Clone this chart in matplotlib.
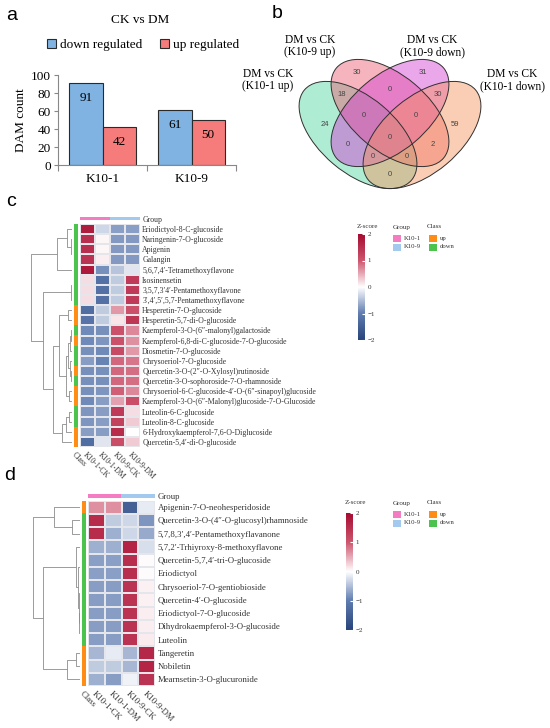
import numpy as np
import matplotlib
matplotlib.use('Agg')
import matplotlib.pyplot as plt
from matplotlib.patches import Ellipse, Rectangle, Patch
from matplotlib.colors import LinearSegmentedColormap, ListedColormap, Normalize
from matplotlib.cm import ScalarMappable

plt.rcParams['font.family'] = ['Liberation Serif', 'DejaVu Serif']

# ---------------- data ----------------
bar_categories = ['K10-1', 'K10-9']
down_counts = [91, 61]
up_counts = [42, 50]

venn_set_labels = ['DM vs CK\n(K10-1 up)', 'DM vs CK\n(K10-9 up)',
                   'DM vs CK\n(K10-9 down)', 'DM vs CK\n(K10-1 down)']
venn_region_codes = ['1000', '0100', '0010', '0001', '1100', '0110', '0011',
                     '1110', '0111', '1111', '1010', '1011', '1101', '0101', '1001']
venn_region_counts = [24, 30, 31, 59, 18, 0, 30, 0, 0, 0, 0, 0, 0, 2, 0]

sample_names = ['K10-1-CK', 'K10-1-DM', 'K10-9-CK', 'K10-9-DM']
sample_groups = ['K10-1', 'K10-1', 'K10-9', 'K10-9']

c_rows = ["Eriodictyol-8-C-glucoside", "Naringenin-7-O-glucoside", "Apigenin", "Galangin",
          "5,6,7,4′-Tetramethoxyflavone", "Isosinensetin", "3,5,7,3′4′-Pentamethoxyflavone",
          "3′,4′,5′,5,7-Pentamethoxyflavone", "Hesperetin-7-O-glucoside",
          "Hesperetin-5,7-di-O-glucoside", "Kaempferol-3-O-(6″-malonyl)galactoside",
          "Kaempferol-6,8-di-C-glucoside-7-O-glucoside", "Diosmetin-7-O-glucoside",
          "Chrysoeriol-7-O-glucoside", "Quercetin-3-O-(2″-O-Xylosyl)rutinoside",
          "Quercetin-3-O-sophoroside-7-O-rhamnoside",
          "Chrysoeriol-6-C-glucoside-4′-O-(6″-sinapoyl)glucoside",
          "Kaempferol-3-O-(6″-Malonyl)glucoside-7-O-Glucoside", "Luteolin-6-C-glucoside",
          "Luteolin-8-C-glucoside", "6-Hydroxykaempferol-7,6-O-Diglucoside",
          "Quercetin-5,4′-di-O-glucoside"]
c_values = np.array([
    [1.75, -0.30, -0.72, -0.72],
    [1.50, 0.05, -0.78, -0.77],
    [1.50, 0.05, -0.78, -0.77],
    [1.45, 0.10, -0.78, -0.77],
    [1.80, -0.85, -0.45, -0.20],
    [0.20, -1.20, -0.40, 1.35],
    [0.20, -1.20, -0.40, 1.35],
    [0.20, -1.20, -0.40, 1.35],
    [-1.25, -0.40, 0.60, 1.05],
    [-1.15, -0.40, 0.15, 1.40],
    [-0.90, -0.85, 1.05, 0.70],
    [-0.90, -0.80, 1.05, 0.65],
    [-0.85, -0.90, 1.15, 0.60],
    [-0.75, -0.95, 0.90, 0.80],
    [-0.85, -0.85, 0.90, 0.85],
    [-0.85, -0.85, 0.90, 0.85],
    [-0.85, -0.80, 0.95, 0.70],
    [-0.90, -0.75, 0.55, 1.10],
    [-0.80, -0.75, 1.35, 0.20],
    [-0.80, -0.75, 1.25, 0.30],
    [-0.75, -0.75, 1.55, 0.00],
    [-1.25, -0.20, 1.10, 0.30],
])
c_class = ['down'] * 8 + ['up', 'up', 'down', 'up', 'down', 'down', 'up', 'down',
                          'up', 'up', 'down', 'down', 'up', 'up']
# dendrogram merges: (height, left, right); leaves are row indices
c_tree = (41, (15, (5, 0, (1, 1, (0.5, 2, 3))), 4),
          (29, (0.6, (0.3, 5, 6), 7),
           (19, (13, (4, 8, 9),
                 (6, (4, (2.5, (1.5, 10, 11), 12), (2, 13, (1, 14, 15))), (3, 16, 17))),
            (10, (6, (3, 18, 19), 20), 21))))

d_rows = ["Apigenin-7-O-neohesperidoside", "Quercetin-3-O-(4″-O-glucosyl)rhamnoside",
          "5,7,8,3′,4′-Pentamethoxyflavanone", "5,7,2′-Trhiyroxy-8-methoxyflavone",
          "Quercetin-5,7,4′-tri-O-glucoside", "Eriodictyol", "Chrysoeriol-7-O-gentiobioside",
          "Quercetin-4′-O-glucoside", "Eriodictyol-7-O-glucoside",
          "Dihydrokaempferol-3-O-glucoside", "Luteolin", "Tangeretin", "Nobiletin",
          "Mearnsetin-3-O-glucuronide"]
d_values = np.array([
    [0.65, 0.65, -1.50, -0.15],
    [1.55, -0.40, -0.30, -0.80],
    [1.55, -0.60, -0.30, -0.65],
    [-0.60, -0.60, 1.65, -0.25],
    [-0.72, -0.72, 1.50, 0.02],
    [-0.72, -0.72, 1.50, 0.02],
    [-0.75, -0.75, 1.45, 0.08],
    [-0.75, -0.75, 1.45, 0.08],
    [-0.75, -0.75, 1.45, 0.10],
    [-0.75, -0.75, 1.45, 0.10],
    [-0.75, -0.75, 1.45, 0.12],
    [-0.55, -0.15, -0.55, 1.60],
    [-0.40, -0.40, -0.55, 1.65],
    [-0.60, -0.75, -0.10, 1.45],
])
d_class = ['up'] + ['down'] * 10 + ['up'] * 3
d_tree = (48, (27, 0, (8, 1, 2)),
          (38, (4, 3, (2, (0.5, 4, 5), (1.2, (0.5, 6, 7), (0.8, 8, (0.4, 9, 10))))),
           (13, (4, 11, 12), 13)))

# ---------------- styles ----------------
W, H = 550, 728
BLUE, RED = '#80B3E2', '#F67C7C'
GROUP_COLORS = {'K10-1': '#F47CC2', 'K10-9': '#A3C9EF'}
CLASS_COLORS = {'up': '#FF8C14', 'down': '#4CC34C'}
cmap = LinearSegmentedColormap.from_list(
    'z', [(0, '#28447A'), (0.25, '#5F7CB0'), (0.5, '#FFFFFF'), (0.75, '#CD556E'), (1, '#A50A2F')])
norm = Normalize(-2, 2)
TXT = '#333333'

fig = plt.figure(figsize=(W / 100, H / 100), dpi=100)


def pax(x0, y0, x1, y1):
    return fig.add_axes([x0 / W, 1 - y1 / H, (x1 - x0) / W, (y1 - y0) / H])


ov = pax(0, 0, W, H)
ov.set_xlim(0, W)
ov.set_ylim(H, 0)
ov.axis('off')
ov.patch.set_alpha(0)

# panel letters
for letter, (x, y) in zip('abcd', [(12, 16), (277, 14), (11, 201), (10, 476)]):
    ov.text(x, y, letter, fontsize=14, family=['Liberation Sans'], ha='center', va='center')

# ---------------- panel a ----------------
axa = pax(58, 75, 236, 165)
xc = np.arange(len(bar_categories)) + 0.5
bw = 0.375
b1 = axa.bar(xc - bw / 2, down_counts, bw, color=BLUE, edgecolor='#2a2a2a', lw=0.8)
b2 = axa.bar(xc + bw / 2, up_counts, bw, color=RED, edgecolor='#2a2a2a', lw=0.8)
for bars, vals in ((b1, down_counts), (b2, up_counts)):
    for r, v in zip(bars, vals):
        axa.annotate(str(v), (r.get_x() + r.get_width() / 2, v), xytext=(0, -11),
                     textcoords='offset points', ha='center', va='center', fontsize=9.5)
axa.set_xlim(0, len(bar_categories))
axa.set_ylim(0, 100)
axa.set_yticks(range(0, 101, 20))
axa.set_xticks(range(len(bar_categories) + 1))
axa.set_xticklabels([])
axa.set_xticks(xc, minor=True)
axa.set_xticklabels(bar_categories, minor=True)
axa.tick_params(axis='x', which='minor', length=0, pad=6, labelsize=9.5)
axa.tick_params(axis='x', which='major', length=4, color='#888888')
axa.tick_params(axis='y', length=3, color='#888888', labelsize=9.5, pad=2)
for s in ('top', 'right'):
    axa.spines[s].set_visible(False)
for s in ('left', 'bottom'):
    axa.spines[s].set_color('#888888')
    axa.spines[s].set_linewidth(0.8)
axa.set_ylabel('DAM count', fontsize=9.5, labelpad=3)
ov.text(140, 20, 'CK vs DM', fontsize=9.5, ha='center', va='center')
fig.legend(handles=[Patch(fc=BLUE, ec='#2a2a2a', lw=0.8), Patch(fc=RED, ec='#2a2a2a', lw=0.8)],
           labels=['down regulated', 'up regulated'], ncol=2, loc='center',
           bbox_to_anchor=(143 / W, 1 - 45 / H), frameon=False, fontsize=9.5,
           handlelength=0.7, handleheight=0.7, handletextpad=0.3, columnspacing=1.3)

# ---------------- panel b (Venn) ----------------
axb = pax(240, 20, 550, 200)
axb.set_xlim(240, 550)
axb.set_ylim(200, 20)
axb.axis('off')
ell_a, ell_b = 70, 38
ell_geo = [(358, 135, 40), (390, 113, 40), (390, 113, -40), (422, 135, -40)]
ell_cols = ['#4FD6A0', '#EB5A70', '#D23CD2', '#F5935A']
for (cx, cy, ang), col in zip(ell_geo, ell_cols):
    axb.add_patch(Ellipse((cx, cy), 2 * ell_a, 2 * ell_b, angle=ang, fc=col, alpha=0.45, ec='none'))
for (cx, cy, ang) in ell_geo:
    axb.add_patch(Ellipse((cx, cy), 2 * ell_a, 2 * ell_b, angle=ang, fill=False, ec='#303030', lw=0.7))
gx, gy = np.meshgrid(np.linspace(240, 550, 932), np.linspace(20, 200, 541))
member = []
for (cx, cy, ang) in ell_geo:
    t = np.deg2rad(ang)
    u = (gx - cx) * np.cos(t) + (gy - cy) * np.sin(t)
    v = -(gx - cx) * np.sin(t) + (gy - cy) * np.cos(t)
    member.append((u / ell_a) ** 2 + (v / ell_b) ** 2 < 1)
for code, cnt in zip(venn_region_codes, venn_region_counts):
    mask = np.ones_like(gx, bool)
    for m, ch in zip(member, code):
        mask &= m if ch == '1' else ~m
    px, py = gx[mask].mean(), gy[mask].mean()
    axb.text(px, py, str(cnt), fontsize=5.5, family=['Liberation Sans'], color='#444444',
             ha='center', va='center')
for lab, (x, y) in zip(venn_set_labels, [(268, 80), (310, 46), (432, 46), (512, 80)]):
    ov.text(x, y, lab, fontsize=8.3, ha='center', va='center', linespacing=1.0)


# ---------------- heatmaps ----------------
def draw_tree(ax, tree, n):
    def rec(node):
        if isinstance(node, int):
            return node + 0.5, 0.0
        h, l, r = node
        yl, hl = rec(l)
        yr, hr = rec(r)
        ax.plot([hl, h, h, hr], [yl, yl, yr, yr], color='#8c8c8c', lw=0.6,
                solid_capstyle='butt')
        return (yl + yr) / 2, h
    rec(tree)
    ax.set_xlim(tree[0], 0)
    ax.set_ylim(n, 0)
    ax.axis('off')


def heat_panel(values, rows, classes, tree, hx0, hx1, hy0, hy1, cls_x, grp_y, dend_x0,
               fs, cb_box, leg_y):
    n = len(rows)
    ax = pax(hx0, hy0, hx1, hy1)
    ax.pcolormesh(values, cmap=cmap, norm=norm, edgecolors='#e4e6ec', linewidth=0.3)
    ax.set_xlim(0, 4)
    ax.set_ylim(n, 0)
    ax.yaxis.tick_right()
    ax.set_yticks(np.arange(n) + 0.5)
    ax.set_yticklabels(rows, fontsize=fs, color=TXT)
    ax.set_xticks(np.arange(4) + 0.5)
    ax.set_xticklabels(sample_names, fontsize=fs, color=TXT, rotation=-45, ha='left',
                       rotation_mode='anchor')
    ax.tick_params(length=0, pad=2)
    ax.tick_params(axis='x', pad=3)
    for s in ax.spines.values():
        s.set_visible(False)
    # class bar
    axc = pax(cls_x[0], hy0, cls_x[1], hy1)
    cls_list = list(CLASS_COLORS)
    axc.imshow(np.array([cls_list.index(c) for c in classes])[:, None], aspect='auto',
               cmap=ListedColormap([CLASS_COLORS[k] for k in cls_list]), vmin=0, vmax=1,
               interpolation='nearest', extent=(0, 1, n, 0))
    axc.set_yticks([])
    axc.set_xticks([0.5])
    axc.set_xticklabels(['Class'], fontsize=fs, color=TXT, rotation=-45, ha='left',
                        rotation_mode='anchor')
    axc.tick_params(length=0, pad=3)
    for s in axc.spines.values():
        s.set_visible(False)
    # group bar
    axg = pax(hx0, grp_y[0], hx1, grp_y[1])
    grp_list = list(GROUP_COLORS)
    axg.imshow(np.array([[grp_list.index(g) for g in sample_groups]]), aspect='auto',
               cmap=ListedColormap([GROUP_COLORS[k] for k in grp_list]), vmin=0, vmax=1,
               interpolation='nearest', extent=(0, 4, 1, 0))
    axg.set_xticks([])
    axg.yaxis.tick_right()
    axg.set_yticks([0.5])
    axg.set_yticklabels(['Group'], fontsize=fs, color=TXT)
    axg.tick_params(length=0, pad=2)
    for s in axg.spines.values():
        s.set_visible(False)
    # dendrogram
    axd = pax(dend_x0, hy0, cls_x[0] - 2, hy1)
    draw_tree(axd, tree, n)
    # colorbar legend
    cx0, cy0, cx1, cy1 = cb_box
    cax = pax(cx0, cy0, cx1, cy1)
    cb = fig.colorbar(ScalarMappable(norm=norm, cmap=cmap), cax=cax, ticks=[-2, -1, 0, 1, 2])
    cb.outline.set_visible(False)
    cax.tick_params(labelsize=5, colors=TXT, length=2, direction='in', pad=2)
    cax.tick_params(color='white')
    ov.text((cx0 + cx1) / 2 + 6, leg_y, 'Z-score', fontsize=5, color=TXT, ha='center', va='center')
    ov.text(402, leg_y, 'Group', fontsize=5, color=TXT, ha='center', va='center')
    ov.text(434, leg_y, 'Class', fontsize=5, color=TXT, ha='center', va='center')
    for i, (k, col) in enumerate(GROUP_COLORS.items()):
        yy = leg_y + 8 + i * 8.5
        ov.add_patch(Rectangle((393, yy), 8, 7, fc=col, ec='none'))
        ov.text(404, yy + 3.5, k, fontsize=4.8, color=TXT, va='center')
    for i, (k, col) in enumerate(CLASS_COLORS.items()):
        yy = leg_y + 8 + i * 8.5
        ov.add_patch(Rectangle((429, yy), 8, 7, fc=col, ec='none'))
        ov.text(440, yy + 3.5, k, fontsize=4.8, color=TXT, va='center')


heat_panel(c_values, c_rows, c_class, c_tree, 80, 139.5, 224, 447, (74, 77.5), (216.5, 220.5),
           31, 5.6, (358, 234, 365, 340), 227)
heat_panel(d_values, d_rows, d_class, d_tree, 88, 155, 500.5, 686, (82, 86), (494, 498.5),
           33, 6.3, (346, 513, 353, 630), 503)

fig.savefig('out.png', dpi=100)
